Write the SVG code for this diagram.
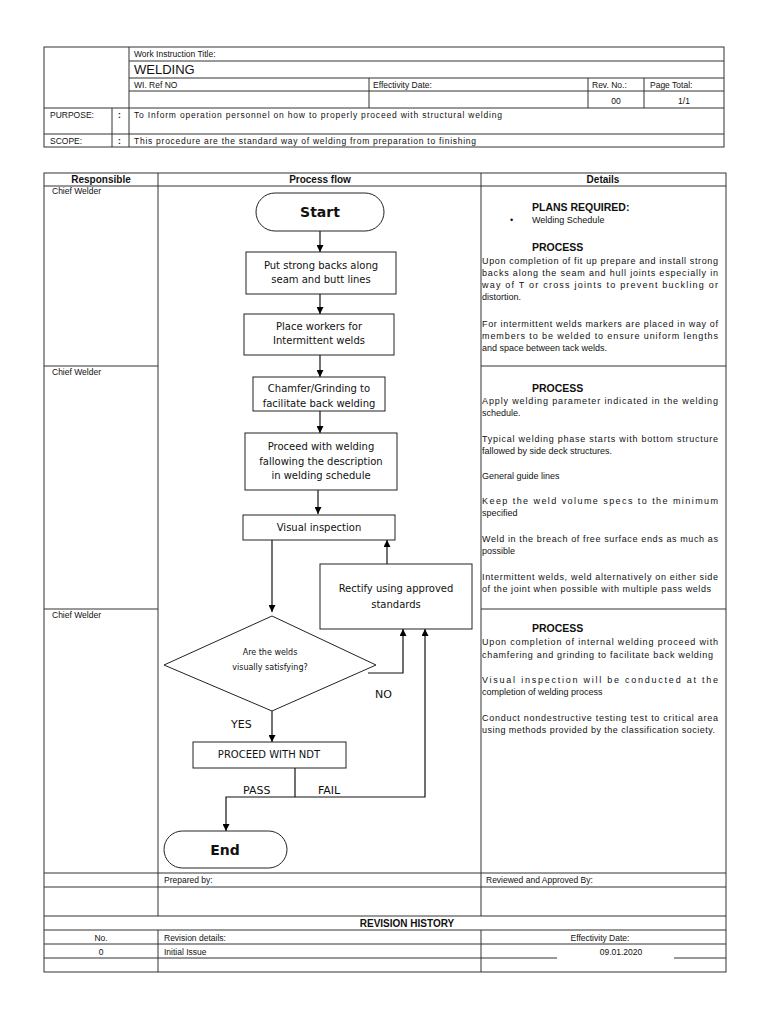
<svg xmlns="http://www.w3.org/2000/svg" width="768" height="1024" viewBox="0 0 768 1024">
<defs>
<marker id="ah" viewBox="0 0 10 10" refX="10" refY="5" markerWidth="7" markerHeight="7" markerUnits="userSpaceOnUse" orient="auto">
<path d="M0,0 L10,5 L0,10 z" fill="#000"/>
</marker>
<style>
.t{font-family:"Liberation Sans",Arial,sans-serif;fill:#111;}
.s8{font-size:8.5px;}
.s9{font-size:9px;}
.b{font-weight:bold;}
.fc{font-family:"DejaVu Sans",Verdana,sans-serif;font-size:10px;fill:#111;text-anchor:middle;}
.big{font-size:14px;font-weight:bold;}
.sm{font-size:8px;}
.lb{font-family:"DejaVu Sans",Verdana,sans-serif;font-size:11px;fill:#111;text-anchor:start;}
.g{stroke:#333;stroke-width:1;fill:none;}
.box{fill:#fff;stroke:#222;stroke-width:1;}
.cn{stroke:#111;stroke-width:1.2;fill:none;}
.mid{text-anchor:middle;}
</style>
</defs>
<rect width="768" height="1024" fill="#fff"/>

<!-- Header table -->
<g id="header">
<rect x="44" y="47" width="680" height="100" class="g"/>
<line x1="129" y1="61" x2="724" y2="61" class="g"/>
<line x1="129" y1="78" x2="724" y2="78" class="g"/>
<line x1="129" y1="91" x2="724" y2="91" class="g"/>
<line x1="44" y1="108" x2="724" y2="108" class="g"/>
<line x1="44" y1="134" x2="724" y2="134" class="g"/>
<line x1="129" y1="47" x2="129" y2="147" class="g"/>
<line x1="112" y1="108" x2="112" y2="147" class="g"/>
<line x1="369" y1="78" x2="369" y2="108" class="g"/>
<line x1="588" y1="78" x2="588" y2="108" class="g"/>
<line x1="644" y1="78" x2="644" y2="108" class="g"/>
<text x="134" y="57" class="t s8">Work Instruction Title:</text>
<text x="134" y="74" class="t" font-size="13">WELDING</text>
<text x="134" y="88" class="t s8">WI. Ref NO</text>
<text x="373" y="88" class="t s8">Effectivity Date:</text>
<text x="592" y="88" class="t s8">Rev. No.:</text>
<text x="650" y="88" class="t s8">Page Total:</text>
<text x="616" y="104" class="t s8 mid">00</text>
<text x="684" y="104" class="t s8 mid">1/1</text>
<text x="50" y="118" class="t s8">PURPOSE:</text>
<text x="118" y="118" class="t s8 b">:</text>
<text x="134" y="118" class="t s8" textLength="368">To Inform operation personnel on how to properly proceed with structural welding</text>
<text x="50" y="144" class="t s8">SCOPE:</text>
<text x="118" y="144" class="t s8 b">:</text>
<text x="134" y="144" class="t s8" textLength="342">This procedure are the standard way of welding from preparation to finishing</text>
</g>

<!-- Main process table -->
<g id="table">
<rect x="44" y="173" width="682" height="799" class="g"/>
<line x1="44" y1="186" x2="726" y2="186" class="g"/>
<line x1="158" y1="173" x2="158" y2="916" class="g"/>
<line x1="481" y1="173" x2="481" y2="916" class="g"/>
<line x1="44" y1="366" x2="158" y2="366" class="g"/>
<line x1="481" y1="366" x2="726" y2="366" class="g"/>
<line x1="44" y1="609" x2="158" y2="609" class="g"/>
<line x1="481" y1="609" x2="726" y2="609" class="g"/>
<line x1="44" y1="873" x2="726" y2="873" class="g"/>
<line x1="44" y1="887" x2="726" y2="887" class="g"/>
<line x1="44" y1="916" x2="726" y2="916" class="g"/>
<line x1="44" y1="930" x2="726" y2="930" class="g"/>
<line x1="44" y1="944" x2="726" y2="944" class="g"/>
<line x1="44" y1="958" x2="481" y2="958" class="g"/>
<line x1="481" y1="958" x2="557" y2="958" class="g"/>
<line x1="674" y1="958" x2="726" y2="958" class="g"/>
<line x1="158" y1="930" x2="158" y2="972" class="g"/>
<line x1="481" y1="930" x2="481" y2="972" class="g"/>
<text x="101" y="183" class="t b mid" font-size="10">Responsible</text>
<text x="320" y="183" class="t b mid" font-size="10">Process flow</text>
<text x="603" y="183" class="t b mid" font-size="10">Details</text>
<text x="52" y="194" class="t s8">Chief Welder</text>
<text x="52" y="375" class="t s8">Chief Welder</text>
<text x="52" y="618" class="t s8">Chief Welder</text>
<text x="164" y="883" class="t s8">Prepared by:</text>
<text x="486" y="883" class="t s8">Reviewed and Approved By:</text>
<text x="407" y="927" class="t b mid" font-size="10">REVISION HISTORY</text>
<text x="101" y="941" class="t s8 mid">No.</text>
<text x="164" y="941" class="t s8">Revision details:</text>
<text x="600" y="941" class="t s8 mid">Effectivity Date:</text>
<text x="101" y="955" class="t s8 mid">0</text>
<text x="164" y="955" class="t s8">Initial Issue</text>
<text x="621" y="955" class="t s8 mid">09.01.2020</text>
</g>

<!-- Details column -->
<g id="details">
<text x="532" y="211" class="t b" font-size="10.5">PLANS REQUIRED:</text>
<text x="510" y="223" class="t s9">•</text>
<text x="532" y="223" class="t s9">Welding Schedule</text>
<text x="532" y="251" class="t b" font-size="10.5">PROCESS</text>
<text x="482" y="264" class="t s9" textLength="236">Upon completion of fit up prepare and install strong</text>
<text x="482" y="276" class="t s9" textLength="236">backs along the seam and hull joints especially in</text>
<text x="482" y="288" class="t s9" textLength="236">way of T or cross joints to prevent buckling or</text>
<text x="482" y="300" class="t s9">distortion.</text>
<text x="482" y="327" class="t s9" textLength="236">For intermittent welds markers are placed in way of</text>
<text x="482" y="339" class="t s9" textLength="236">members to be welded to ensure uniform lengths</text>
<text x="482" y="351" class="t s9">and space between tack welds.</text>

<text x="532" y="392" class="t b" font-size="10.5">PROCESS</text>
<text x="482" y="404" class="t s9" textLength="236">Apply welding parameter indicated in the welding</text>
<text x="482" y="416" class="t s9">schedule.</text>
<text x="482" y="442" class="t s9" textLength="236">Typical welding phase starts with bottom structure</text>
<text x="482" y="454" class="t s9">fallowed by side deck structures.</text>
<text x="482" y="479" class="t s9">General guide lines</text>
<text x="482" y="504" class="t s9" textLength="236">Keep the weld volume specs to the minimum</text>
<text x="482" y="516" class="t s9">specified</text>
<text x="482" y="542" class="t s9" textLength="236">Weld in the breach of free surface ends as much as</text>
<text x="482" y="554" class="t s9">possible</text>
<text x="482" y="580" class="t s9" textLength="236">Intermittent welds, weld alternatively on either side</text>
<text x="482" y="592" class="t s9" textLength="229">of the joint when possible with multiple pass welds</text>

<text x="532" y="632" class="t b" font-size="10.5">PROCESS</text>
<text x="482" y="645" class="t s9" textLength="236">Upon completion of internal welding proceed with</text>
<text x="482" y="658" class="t s9" textLength="231">chamfering and grinding to facilitate back welding</text>
<text x="482" y="683" class="t s9" textLength="236">Visual inspection will be conducted at the</text>
<text x="482" y="695" class="t s9">completion of welding process</text>
<text x="482" y="721" class="t s9" textLength="236">Conduct nondestructive testing test to critical area</text>
<text x="482" y="733" class="t s9" textLength="233">using methods provided by the classification society.</text>
</g>

<!-- Connectors -->
<g id="connectors">
<line x1="320" y1="231" x2="320" y2="252" class="cn" marker-end="url(#ah)"/>
<line x1="320" y1="294" x2="320" y2="314" class="cn" marker-end="url(#ah)"/>
<line x1="320" y1="355" x2="320" y2="377" class="cn" marker-end="url(#ah)"/>
<line x1="320" y1="411" x2="320" y2="433" class="cn" marker-end="url(#ah)"/>
<line x1="318" y1="490" x2="318" y2="514" class="cn" marker-end="url(#ah)"/>
<line x1="272" y1="540" x2="272" y2="612" class="cn" marker-end="url(#ah)"/>
<line x1="387" y1="564" x2="387" y2="540" class="cn" marker-end="url(#ah)"/>
<polyline points="368,673 403,673 403,629" class="cn" marker-end="url(#ah)"/>
<line x1="272" y1="711" x2="272" y2="742" class="cn" marker-end="url(#ah)"/>
<polyline points="295,768 295,797" class="cn"/>
<polyline points="295,797 425,797 425,629" class="cn" marker-end="url(#ah)"/>
<polyline points="295,797 226,797 226,831" class="cn" marker-end="url(#ah)"/>
<text x="375" y="698" class="lb">NO</text>
<text x="231" y="728" class="lb">YES</text>
<text x="243" y="794" class="lb">PASS</text>
<text x="318" y="794" class="lb">FAIL</text>
</g>

<!-- Nodes -->
<g id="start">
<rect x="256" y="193" width="128" height="38" rx="19" class="box"/>
<text x="320" y="217" class="fc big">Start</text>
</g>
<g id="strongbacks">
<rect x="246" y="252" width="150" height="42" class="box"/>
<text x="321" y="269" class="fc">Put strong backs along</text>
<text x="321" y="283" class="fc">seam and butt lines</text>
</g>
<g id="placeworkers">
<rect x="244" y="314" width="150" height="41" class="box"/>
<text x="319" y="330" class="fc">Place workers for</text>
<text x="319" y="344" class="fc">Intermittent welds</text>
</g>
<g id="chamfer">
<rect x="253" y="377" width="132" height="34" class="box"/>
<text x="319" y="392" class="fc">Chamfer/Grinding to</text>
<text x="319" y="407" class="fc">facilitate back welding</text>
</g>
<g id="proceedwelding">
<rect x="245" y="433" width="152" height="57" class="box"/>
<text x="321" y="450" class="fc">Proceed with welding</text>
<text x="321" y="465" class="fc">fallowing the description</text>
<text x="321" y="479" class="fc">in welding schedule</text>
</g>
<g id="visual">
<rect x="243" y="515" width="152" height="25" class="box"/>
<text x="319" y="531" class="fc">Visual inspection</text>
</g>
<g id="rectify">
<rect x="320" y="564" width="152" height="65" class="box"/>
<text x="396" y="592" class="fc">Rectify using approved</text>
<text x="396" y="608" class="fc">standards</text>
</g>
<g id="decision">
<polygon points="272,616 376,665 272,711 164,665" class="box"/>
<text x="270" y="655" class="fc sm">Are the welds</text>
<text x="270" y="670" class="fc sm">visually satisfying?</text>
</g>
<g id="ndt">
<rect x="193" y="742" width="153" height="26" class="box"/>
<text x="269" y="758" class="fc">PROCEED WITH NDT</text>
</g>
<g id="end">
<rect x="164" y="831" width="123" height="37" rx="18.5" class="box"/>
<text x="225" y="855" class="fc big">End</text>
</g>
</svg>
